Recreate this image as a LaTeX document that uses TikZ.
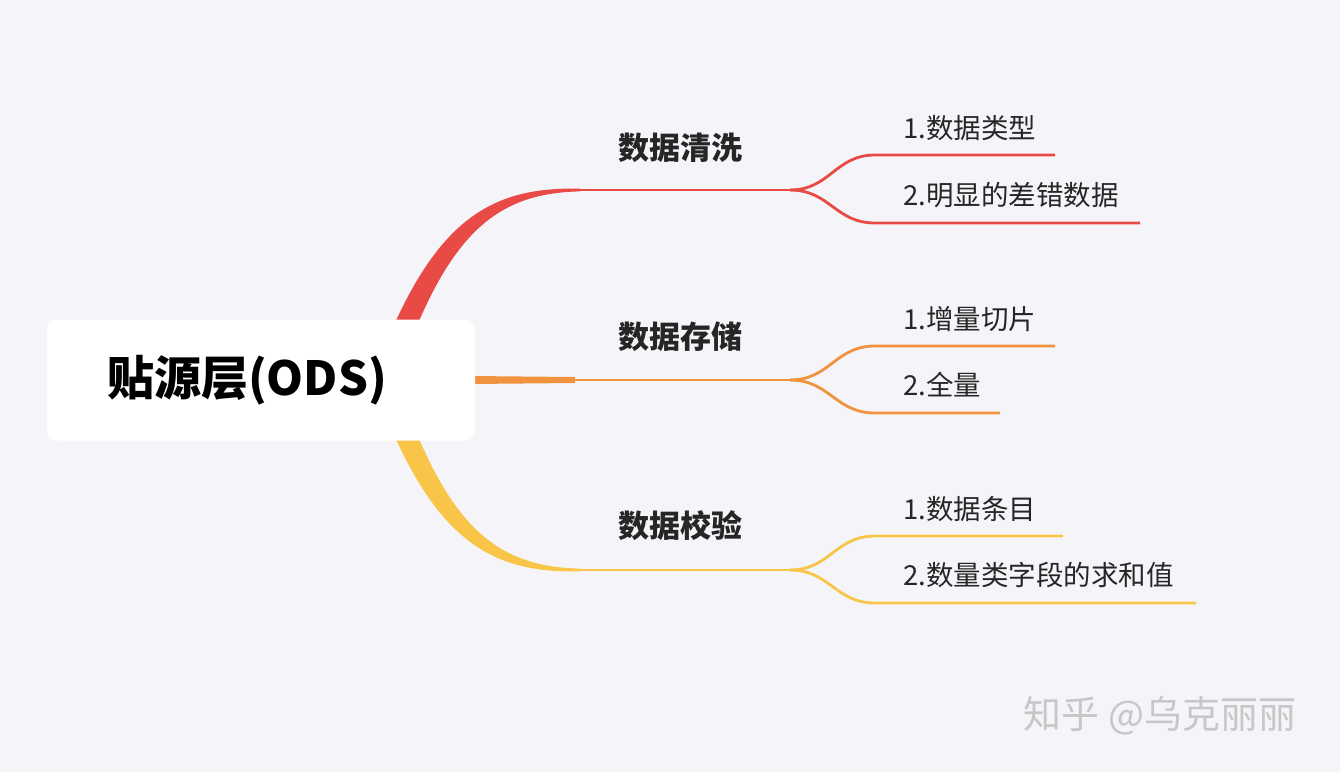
\documentclass[tikz,border=0pt]{standalone}
\usepackage{fontspec}
\setmainfont{Noto Sans CJK SC}
\usetikzlibrary{calc}
\definecolor{bgc}{HTML}{F5F5F9}
\definecolor{redb}{HTML}{E84A45}
\definecolor{orab}{HTML}{F0923E}
\definecolor{yelb}{HTML}{F8C548}
\begin{document}
\begin{tikzpicture}[x=1pt,y=-1pt,
                    branch/.style={font=\fontsize{31}{33}\selectfont\bfseries,text=black!85},
                    leaf/.style={font=\fontsize{27.5}{30}\selectfont,text=black!85,anchor=west},
                    thin/.style={line width=2.8pt}]
  \fill[bgc] (0,0) rectangle (1340,772);
  \useasboundingbox (0,0) rectangle (1340,772);

  % main branches (tapered)
  \fill[redb] (394,325) .. controls (445,212) and (500,187) .. (580,188.6)
    -- (580,191.4) .. controls (505,193) and (458,225) .. (414,333) -- cycle;
  \draw[redb,thin] (578,190) -- (790,190);
  \fill[orab] (470,376) -- (575,377) -- (575,383) -- (470,384) -- cycle;
  \draw[orab,thin] (573,380) -- (790,380);
  \fill[yelb] (394,435) .. controls (445,548) and (500,573) .. (580,571.4)
    -- (580,568.6) .. controls (505,567) and (458,535) .. (414,427) -- cycle;
  \draw[yelb,thin] (578,570) -- (790,570);

  \node[fill=white,rounded corners=10pt,minimum width=428pt,minimum height=121pt] (root) at (261,380) {};
  \node[font=\fontsize{47}{50}\selectfont\bfseries] (rootlbl) at (247,380) {贴源层(ODS)};

  \node[branch] (clean) at (680,148) {数据清洗};
  \node[branch] (store) at (680,337) {数据存储};
  \node[branch] (check) at (680,526) {数据校验};

  % leaves
  \foreach \c/\y/\fy/\ty/\ta/\tb/\ea/\eb in
    {redb/190/155/223/1.数据类型/2.明显的差错数据/1055/1140,
     orab/380/346/413/1.增量切片/2.全量/1055/1000,
     yelb/570/536/603/1.数据条目/2.数量类字段的求和值/1063/1196} {
    \draw[\c,thin] (790,\y) .. controls (830,\y) and (835,\fy) .. (875,\fy) -- (\ea,\fy);
    \draw[\c,thin] (790,\y) .. controls (830,\y) and (835,\ty) .. (875,\ty) -- (\eb,\ty);
    \node[leaf] at (900,\fy-27) {\ta};
    \node[leaf] at (900,\ty-28) {\tb};
  }

  \node[font=\fontsize{38}{42}\selectfont,text=black!22] (mark) at (1160,716) {知乎 @乌克丽丽};
\end{tikzpicture}
\end{document}
